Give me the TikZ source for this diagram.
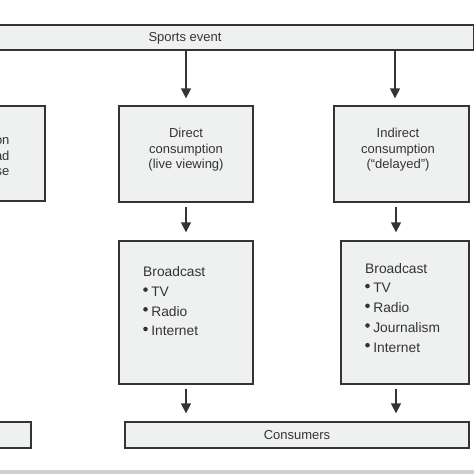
\documentclass[tikz,border=0pt]{standalone}
\usepackage{fontspec}
\setmainfont{Liberation Sans}
\usetikzlibrary{arrows.meta,positioning}
\definecolor{boxfill}{RGB}{239,240,240}
\definecolor{inkgray}{RGB}{52,52,52}
\tikzset{>={Triangle[length=10pt,width=10pt]}}
\tikzset{
  box/.style={draw=inkgray,line width=1.3pt,fill=boxfill,inner sep=0pt},
  boxtext/.style={text=inkgray,font=\fontsize{13}{15.5}\selectfont,align=center},
  listtext/.style={text=inkgray,font=\fontsize{13.8}{19.7}\selectfont,align=left,inner sep=0pt,anchor=north west},
  flow/.style={->,line width=1.3pt,draw=inkgray,fill=inkgray}
}
\newcommand{\listdot}{\tikz[baseline=0pt]\fill[inkgray] (2.3pt,6.8pt) circle[radius=2.3pt];\hspace{3.5pt}}

\begin{document}
\begin{tikzpicture}[x=1pt,y=-1pt]
    \useasboundingbox (0,0) rectangle (474,474);
    \begin{scope}
    \clip (0,0) rectangle (474,474);
    % boxes
    \node[box,minimum width=503pt,minimum height=25pt] (bar) at (222,37.5) {};
    \node[boxtext] (event) at (185,38) {Sports event};
    \node[box,minimum width=135pt,minimum height=95pt] (onsite) at (-22.5,153.5) {};
    \node[boxtext,align=right,anchor=east] (onsitetext) at (13,157) {on\\ad\\se};
    \node[box,minimum width=134pt,minimum height=96pt] (direct) at (186,154) {};
    \node[boxtext] (directtext) at (186,150) {Direct\\consumption\\(live viewing)};
    \node[box,minimum width=135pt,minimum height=96pt] (indirect) at (401.5,154) {};
    \node[boxtext] (indirecttext) at (398,150) {Indirect\\consumption\\(“delayed”)};
    \node[box,minimum width=134pt,minimum height=143pt] (bcdirect) at (186,312.5) {};
    \node[listtext] (bcdirectlist) at (143,266.5) {Broadcast\\\listdot TV\\\listdot Radio\\\listdot Internet};
    \node[box,minimum width=128pt,minimum height=143pt] (bcindirect) at (405,312.5) {};
    \node[listtext] (bcindirectlist) at (365,263) {Broadcast\\\listdot TV\\\listdot Radio\\\listdot Journalism\\\listdot Internet};
    \node[box,minimum width=91pt,minimum height=26pt] (leftend) at (-14.5,435) {};
    \node[box,minimum width=344pt,minimum height=26pt,boxtext] (consumers) at (297,435) {Consumers};
    % arrows
    \draw[flow,shorten >=7pt] (bar.south -| direct.north) -- (direct.north);
    \draw[flow,shorten >=7pt] ([xshift=-6.5pt]indirect.north |- bar.south) -- ([xshift=-6.5pt]indirect.north);
    \draw[flow,shorten <=4pt,shorten >=8pt] (direct.south) -- (bcdirect.north);
    \draw[flow,shorten <=4pt,shorten >=8pt] ([xshift=-5.5pt]indirect.south) -- ([xshift=-5.5pt]indirect.south |- bcindirect.north);
    \draw[flow,shorten <=4pt,shorten >=8pt] (bcdirect.south) -- (bcdirect.south |- consumers.north);
    \draw[flow,shorten <=4pt,shorten >=8pt] ([xshift=-9pt]bcindirect.south) -- ([xshift=-9pt]bcindirect.south |- consumers.north);
    \fill[gray!35] (0,470) rectangle (474,474);
    \end{scope}
\end{tikzpicture}
\end{document}
